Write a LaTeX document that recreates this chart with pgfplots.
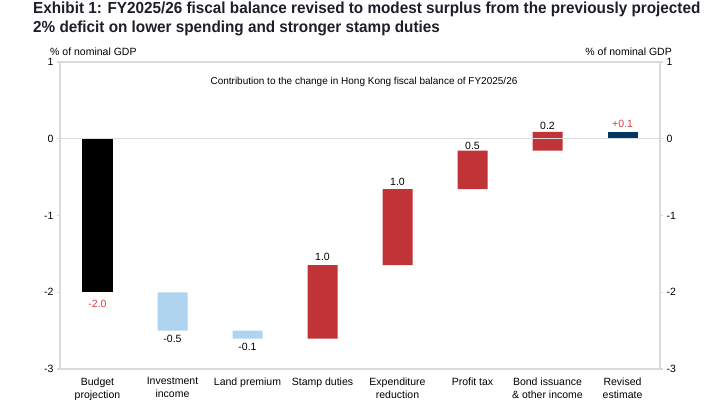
\documentclass[border=0pt]{standalone}
\usepackage{pgfplots}
\pgfplotsset{compat=1.18}
\usepackage{pgfplotstable}
\usetikzlibrary{calc}
\usepackage{fontspec}
\setmainfont{Liberation Sans}
\newfontfamily\titlefont[FakeStretch=0.955]{Liberation Sans}
\definecolor{ltblue}{RGB}{174,212,240}
\definecolor{barred}{RGB}{192,51,54}
\definecolor{navy}{RGB}{0,55,100}
\definecolor{labred}{RGB}{220,60,72}
\definecolor{framegray}{RGB}{218,218,218}
\definecolor{titlec}{RGB}{30,30,40}

\pgfplotstableread{
x base black lblue red navy
0 0 -2.0 0 0 0
1 -2.0 0 -0.5 0 0
2 -2.5 0 -0.105 0 0
3 -2.605 0 0 0.96 0
4 -1.645 0 0 0.99 0
5 -0.655 0 0 0.50 0
6 -0.155 0 0 0.245 0
7 0 0 0 0 0.09
}\bars

\pgfplotstableread{
x y lab
1 -2.606 -0.5
2 -2.706 -0.1
3 -1.534 1.0
4 -0.556 1.0
5 -0.087 0.5
6 0.164 0.2
}\blacklabels

\pgfplotstableread{
x y lab
0 -2.15 -2.0
7 0.20 +0.1
}\redlabels

\pgfplotsset{common/.style={
  width=600pt, height=307pt, scale only axis,
  xmin=-0.5, xmax=7.5, ymin=-3, ymax=1,
  clip=false,
  axis line style={draw=framegray, line width=1.3pt},
  ytick={-3,-2,-1,0,1},
  yticklabels={-3,-2,-1,0,1},
  yticklabel style={font=\fontsize{10.5}{12}\selectfont},
  major y tick style={draw=framegray, line width=1.2pt},
  major tick length=3pt,
  tick align=outside,
}}

\begin{document}
\begin{tikzpicture}[x=1pt,y=1pt]
\begin{axis}[common,
  ybar stacked, stack negative=on previous, bar width=30pt,
  xtick={0,...,7},
  xticklabels={{Budget\\projection},{Investment\\income},{Land premium},{Stamp duties},{Expenditure\\reduction},{Profit tax},{Bond issuance\\\& other income},{Revised\\estimate}},
  xticklabel style={align=center, font=\fontsize{10.5}{13}\selectfont, yshift=-2pt},
  major x tick style={draw=none},
  ytick pos=left,
]
\coordinate (O) at (rel axis cs:0,0);
\addplot[draw=none, fill=none] table[x=x, y=base] {\bars};
\addplot[draw=none, fill=black] table[x=x, y=black] {\bars};
\addplot[draw=none, fill=ltblue] table[x=x, y=lblue] {\bars};
\addplot[draw=none, fill=barred] table[x=x, y=red] {\bars};
\addplot[draw=none, fill=navy] table[x=x, y=navy] {\bars};
\end{axis}

\begin{axis}[common,
  xtick=\empty,
  ytick pos=right, yticklabel pos=right,
]
\addplot[draw=framegray, line width=1.2pt, mark=none] coordinates {(-0.5,0) (7.5,0)};
\addplot[draw=none, mark=none, nodes near coords, point meta=explicit symbolic,
  nodes near coords align=center,
  every node near coord/.append style={anchor=center, text=black, font=\fontsize{10.5}{12}\selectfont}]
  table[x=x, y=y, meta=lab] {\blacklabels};
\addplot[draw=none, mark=none, nodes near coords, point meta=explicit symbolic,
  nodes near coords align=center,
  every node near coord/.append style={anchor=center, text=labred, font=\fontsize{10.5}{12}\selectfont}]
  table[x=x, y=y, meta=lab] {\redlabels};
\end{axis}

\pgfresetboundingbox
\coordinate (P) at ($(O)+(-60,-30)$);
\path[use as bounding box] (P) rectangle ++(711,399);
\node[anchor=base west, inner sep=0, text=titlec, font=\titlefont\bfseries\fontsize{16}{18}\selectfont] at ($(P)+(33,385.7)$) {Exhibit 1: FY2025/26 fiscal balance revised to modest surplus from the previously projected};
\node[anchor=base west, inner sep=0, text=titlec, font=\titlefont\bfseries\fontsize{16}{18}\selectfont] at ($(P)+(33,366.7)$) {2\% deficit on lower spending and stronger stamp duties};
\node[anchor=base west, inner sep=0, font=\fontsize{10.5}{12}\selectfont] at ($(P)+(50,343)$) {\% of nominal GDP};
\node[anchor=base east, inner sep=0, font=\fontsize{10.5}{12}\selectfont] at ($(P)+(672,343)$) {\% of nominal GDP};
\node[anchor=center, inner sep=0, font=\fontsize{10}{12}\selectfont] at ($(P)+(364,317)$) {Contribution to the change in Hong Kong fiscal balance of FY2025/26};
\end{tikzpicture}
\end{document}
